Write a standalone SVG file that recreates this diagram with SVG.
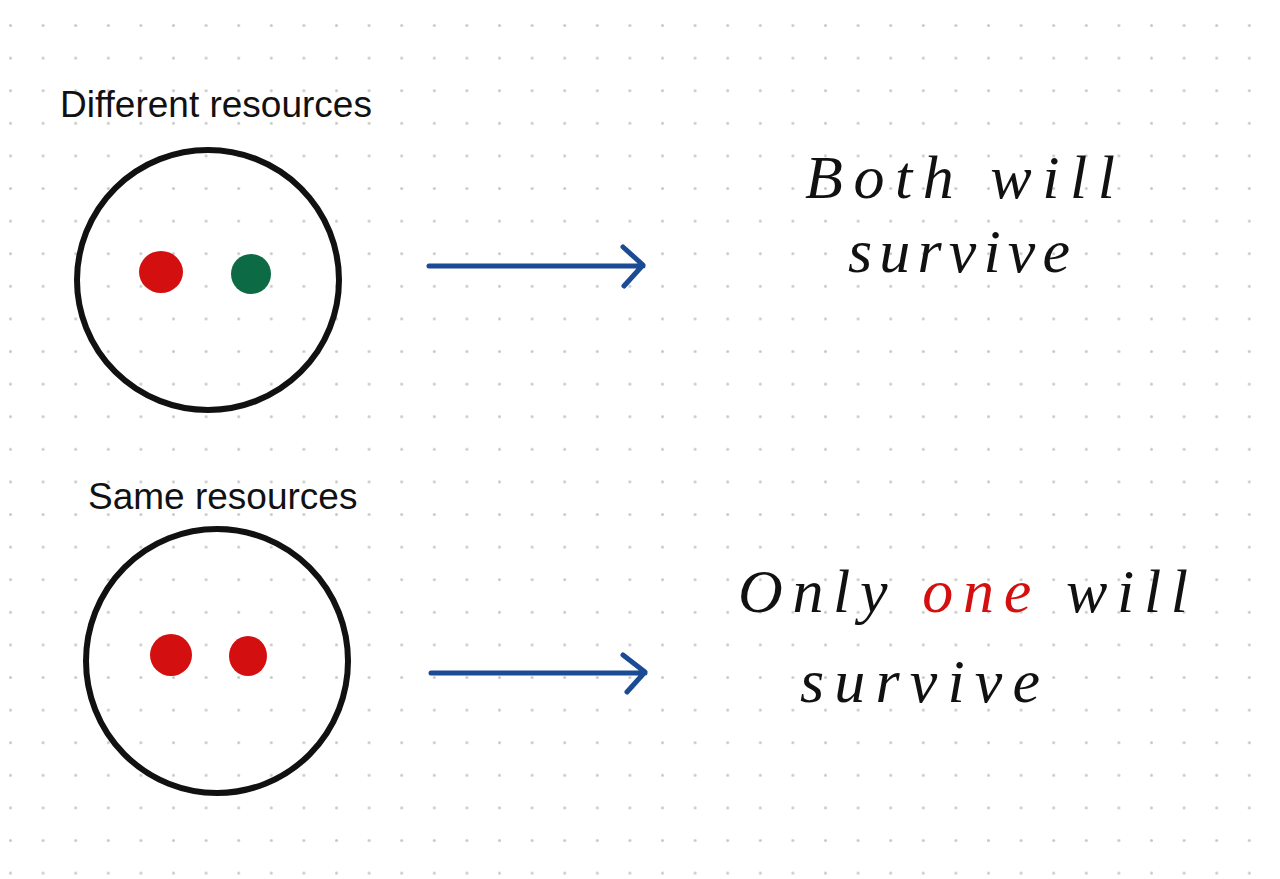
<svg xmlns="http://www.w3.org/2000/svg" width="1280" height="879" viewBox="0 0 1280 879">
<defs>
<pattern id="dots" x="9" y="24" width="32.6" height="32.6" patternUnits="userSpaceOnUse"><circle cx="1.5" cy="1.5" r="1.5" fill="#c8c8c8"/></pattern>
</defs>
<style>
.lbl{font-family:"Liberation Sans",Arial,sans-serif;font-size:37px;fill:#111}
.hand{font-family:"Liberation Serif",serif;font-style:italic;font-size:62px;fill:#111}
.ring{fill:none;stroke:#111;stroke-width:6}
.arr{fill:none;stroke:#1a4b94;stroke-width:5;stroke-linecap:round;stroke-linejoin:round}
</style>
<rect width="1280" height="879" fill="#fff"/>
<rect width="1280" height="879" fill="url(#dots)"/>
<g id="top">
<text class="lbl" x="60" y="117">Different resources</text>
<ellipse class="ring" cx="208" cy="280" rx="131" ry="130"/>
<ellipse cx="161" cy="272" rx="22" ry="21" fill="#d40f0f"/>
<ellipse cx="251" cy="274" rx="20" ry="20" fill="#0c6b45"/>
</g>
<g id="bottom">
<text class="lbl" x="88" y="509">Same resources</text>
<ellipse class="ring" cx="217" cy="661" rx="131" ry="132"/>
<ellipse cx="171" cy="655" rx="21" ry="21" fill="#d40f0f"/>
<ellipse cx="248" cy="656" rx="19" ry="20" fill="#d40f0f"/>
</g>
<g id="connectors">
<path class="arr" d="M429 266 L643 266 M623 247 L643 265 L624 286"/>
<path class="arr" d="M431 673 L645 673 M623 655 L645 672 L627 692"/>
</g>
<g id="t1">
<text class="hand" x="805" y="198" textLength="310" lengthAdjust="spacing">Both will</text>
<text class="hand" x="848" y="272" textLength="222" lengthAdjust="spacing">survive</text>
</g>
<g id="t2">
<text class="hand" x="738" y="612" textLength="450" lengthAdjust="spacing">Only <tspan fill="#d40f0f">one</tspan> will</text>
<text class="hand" x="800" y="702" textLength="240" lengthAdjust="spacing">survive</text>
</g>
</svg>
